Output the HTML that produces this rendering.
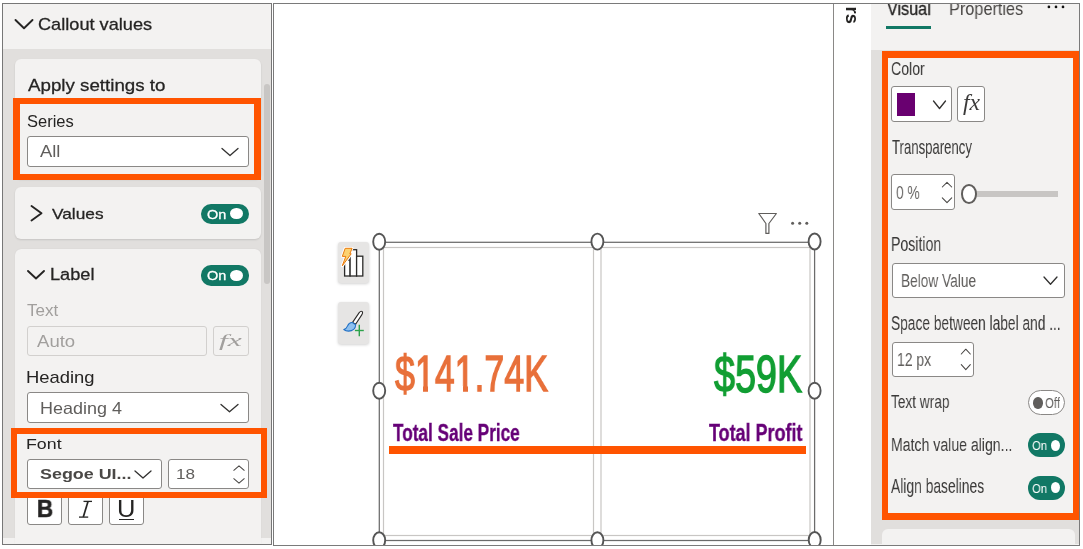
<!DOCTYPE html>
<html><head><meta charset="utf-8"><style>
*{margin:0;padding:0;box-sizing:border-box}
html,body{width:1083px;height:549px;overflow:hidden;background:#fff;font-family:"Liberation Sans", sans-serif}
.a{position:absolute}
.t{position:absolute;white-space:nowrap;line-height:1;transform-origin:0 0;will-change:transform}
</style></head><body>
<!-- LEFT PANEL -->
<div class="a" style="left:2px;top:3px;width:270px;height:542px;border:1px solid #777;background:#f3f2f1"></div>
<div class="a" style="left:3px;top:49px;width:268px;height:489px;background:#e1dfdd"></div>
<div class="a" style="left:15px;top:59px;width:246px;height:120px;border-radius:6px;background:#f3f2f1;box-shadow:0 1px 2px rgba(0,0,0,.12)"></div>
<div class="a" style="left:15px;top:187px;width:246px;height:52px;border-radius:6px;background:#f3f2f1;box-shadow:0 1px 2px rgba(0,0,0,.12)"></div>
<div class="a" style="left:15px;top:249px;width:246px;height:295px;border-radius:6px 6px 0 0;background:#f3f2f1;box-shadow:0 0 1px rgba(0,0,0,.12)"></div>
<div class="a" style="left:264px;top:84px;width:6px;height:200px;border-radius:3px;background:#c8c6c4"></div>
<!-- series dropdown -->
<div class="a" style="left:27px;top:136px;width:222px;height:31px;border:1px solid #8a8886;border-radius:3px;background:#fff"></div>
<!-- toggles left -->
<div class="a" style="left:201px;top:204px;width:48px;height:20px;border-radius:10px;background:#117865"></div>
<div class="a" style="left:230px;top:208px;width:12.5px;height:11px;border-radius:50%;background:#fff"></div>
<div class="a" style="left:201px;top:265px;width:48px;height:20.5px;border-radius:10px;background:#117865"></div>
<div class="a" style="left:230px;top:270px;width:12.5px;height:11px;border-radius:50%;background:#fff"></div>
<!-- auto / fx disabled -->
<div class="a" style="left:27px;top:326px;width:180px;height:30px;border:1px solid #d2d0ce;border-radius:3px"></div>
<div class="a" style="left:213px;top:326px;width:36px;height:30px;border:1px solid #d2d0ce;border-radius:3px"></div>
<!-- heading dropdown -->
<div class="a" style="left:27px;top:392px;width:222px;height:31px;border:1px solid #8a8886;border-radius:3px;background:#fff"></div>
<!-- font dropdowns -->
<div class="a" style="left:27px;top:459px;width:135px;height:30px;border:1px solid #8a8886;border-radius:3px;background:#fff"></div>
<div class="a" style="left:168px;top:459px;width:81px;height:30px;border:1px solid #8a8886;border-radius:3px;background:#fff"></div>
<!-- BIU -->
<div class="a" style="left:27px;top:494px;width:35px;height:31px;border:1px solid #8a8886;border-radius:3px;background:#fff"></div>
<div class="a" style="left:68px;top:494px;width:35px;height:31px;border:1px solid #8a8886;border-radius:3px;background:#fff"></div>
<div class="a" style="left:109px;top:494px;width:35px;height:31px;border:1px solid #8a8886;border-radius:3px;background:#fff"></div>
<!-- orange boxes left -->
<div class="a" style="left:13px;top:98px;width:248px;height:82px;border:solid #ff5400;border-width:6px 7px"></div>
<div class="a" style="left:11px;top:428px;width:256px;height:70px;border:solid #ff5400;border-width:6.5px 6.5px"></div>

<!-- CANVAS -->
<div class="a" style="left:273px;top:3px;width:807px;height:543px;border:1px solid #7a7a7a;background:#fff"></div>
<div class="a" style="left:833px;top:4px;width:1px;height:541px;background:#8a8886"></div>
<!-- insight buttons -->
<div class="a" style="left:338px;top:242px;width:31px;height:41px;border-radius:3px;background:#e6e5e4;box-shadow:0 1px 3px rgba(0,0,0,.18)"></div>
<div class="a" style="left:338px;top:302px;width:31px;height:42px;border-radius:3px;background:#e6e5e4;box-shadow:0 1px 3px rgba(0,0,0,.18)"></div>
<!-- orange underline -->

<!-- RIGHT PANEL -->
<div class="a" style="left:871px;top:4px;width:208px;height:541px;background:#f3f2f1"></div>
<div class="a" style="left:871px;top:50px;width:208px;height:494px;background:#e1dfdd"></div>
<div class="a" style="left:882px;top:529px;width:193px;height:15px;border-radius:6px 6px 0 0;background:#f3f2f1"></div>
<div class="a" style="left:882px;top:51px;width:196.5px;height:469px;background:#f3f2f1;border:solid #ff5400;border-width:7px 6.5px 7px 6px"></div>
<div class="a" style="left:886px;top:26px;width:45px;height:3px;background:#117865"></div>
<!-- color dropdown -->
<div class="a" style="left:891px;top:86px;width:61px;height:35.7px;border:1px solid #8a8886;border-radius:3px;background:#fff"></div>
<div class="a" style="left:897px;top:92.5px;width:18px;height:23px;background:#690070"></div>
<div class="a" style="left:957px;top:86px;width:28px;height:35.7px;border:1px solid #8a8886;border-radius:3px;background:#fff"></div>
<!-- 0% box -->
<div class="a" style="left:891px;top:174px;width:64px;height:36px;border:1px solid #8a8886;border-radius:3px;background:#fff"></div>
<div class="a" style="left:976px;top:191px;width:82px;height:5.5px;background:#c8c6c4"></div>
<div class="a" style="left:960.5px;top:184px;width:16.5px;height:20px;border-radius:50%;border:2.3px solid #605e5c;background:#fff"></div>
<!-- position dropdown -->
<div class="a" style="left:891.5px;top:262.5px;width:173.5px;height:35px;border:1px solid #8a8886;border-radius:3px;background:#fff"></div>
<!-- 12px -->
<div class="a" style="left:891.5px;top:341.5px;width:82px;height:35.5px;border:1px solid #8a8886;border-radius:3px;background:#fff"></div>
<!-- toggles right -->
<div class="a" style="left:1027.5px;top:390px;width:37.5px;height:25px;border:1px solid #8a8886;border-radius:12.5px;background:#fff"></div>
<div class="a" style="left:1033px;top:397px;width:9.5px;height:11.5px;border-radius:50%;background:#605e5c"></div>
<div class="a" style="left:1027.5px;top:433px;width:37.5px;height:24px;border-radius:12px;background:#117865"></div>
<div class="a" style="left:1050.5px;top:439.5px;width:9.5px;height:11.5px;border-radius:50%;background:#fff"></div>
<div class="a" style="left:1027.5px;top:475.5px;width:37.5px;height:24px;border-radius:12px;background:#117865"></div>
<div class="a" style="left:1050.5px;top:481.5px;width:9.5px;height:11.5px;border-radius:50%;background:#fff"></div>

<svg class="a" style="left:0;top:0" width="1083" height="549" viewBox="0 0 1083 549" fill="none">
 <g stroke="#252423" stroke-width="1.9" stroke-linecap="round" stroke-linejoin="round">
  <polyline points="15.5,20 24,28.3 32.5,20"/>
  <polyline points="31.5,206 41.5,213.3 31.5,220.5"/>
  <polyline points="28,271 36,278.5 44,271"/>
 </g>
 <g stroke="#323130" stroke-width="1.3" stroke-linecap="round" stroke-linejoin="round">
  <polyline points="222,148.5 230,155.5 238,148.5"/>
  <polyline points="221,404.5 229.5,411.8 238,404.5"/>
  <polyline points="135,471 143,478 151,471"/>

  <polyline points="933.5,101 939.5,108.5 945.5,101"/>
  <polyline points="1044,277 1050.5,284.3 1057,277"/>

 </g>
 <g stroke="#484644" stroke-width="1.05" stroke-linecap="round" stroke-linejoin="round">
  <polyline points="233.8,470.3 239,465.8 244.2,470.3"/>
  <polyline points="233.8,478.7 239,483.2 244.2,478.7"/>
  <polyline points="942.3,187 947,182.3 951.7,187"/>
  <polyline points="942.3,197.8 947,202.6 951.7,197.8"/>
  <polyline points="961.3,354 965.8,349.2 970.3,354"/>
  <polyline points="961.3,364.6 965.8,369.6 970.3,364.6"/>
 </g>
 <!-- visual frame -->
 <g stroke="#c8c6c4" stroke-width="1.2">
  <rect x="383.5" y="247.5" width="210" height="288"/>
  <rect x="601" y="247.5" width="209" height="288"/>
 </g>
 <rect x="379.3" y="242.3" width="435.3" height="298.2" stroke="#6b6b6b" stroke-width="1.25"/>
 <g stroke="#555" stroke-width="1.9" fill="#fff">
  <ellipse cx="379.2" cy="241.7" rx="6" ry="8"/>
  <ellipse cx="597.4" cy="241.6" rx="6" ry="8"/>
  <ellipse cx="814.6" cy="241.5" rx="6" ry="8"/>
  <ellipse cx="379.2" cy="390.7" rx="6" ry="8"/>
  <ellipse cx="814.6" cy="390.7" rx="6" ry="8"/>
  <ellipse cx="379.2" cy="540.3" rx="6" ry="8"/>
  <ellipse cx="597.4" cy="540.3" rx="6" ry="8"/>
  <ellipse cx="814.7" cy="540" rx="6" ry="8"/>
 </g>
 <!-- filter icon -->
 <path d="M758.8,213.5 H776.4 L768.9,223.5 V233.4 H765.9 V223.5 Z" stroke="#605e5c" stroke-width="1.2" stroke-linejoin="round"/>
 <g fill="#605e5c"><circle cx="792.6" cy="223.3" r="1.5"/><circle cx="799.7" cy="223.3" r="1.5"/><circle cx="806.8" cy="223.3" r="1.5"/></g>
 <g fill="#111"><circle cx="1048.9" cy="6.9" r="1.35"/><circle cx="1056" cy="6.9" r="1.35"/><circle cx="1063" cy="6.9" r="1.35"/></g>
 <!-- insight icon: bars + bolt -->
 <g stroke="#2b2a29" stroke-width="1.3" fill="#fff">
  <rect x="344.6" y="260" width="5.5" height="16"/>
  <rect x="350.1" y="249.7" width="6.5" height="26.3"/>
  <rect x="356.6" y="256.2" width="6.2" height="19.8"/>
 </g>
 <path d="M345.2,248.3 L352.1,248.3 L349.8,253.8 L351.2,253.8 L342.3,265.8 L345.8,256.4 L342.3,256.4 Z" fill="#fff" stroke="#fff" stroke-width="2.8" stroke-linejoin="round"/>
 <path d="M345.2,248.3 L352.1,248.3 L349.8,253.8 L351.2,253.8 L342.3,265.8 L345.8,256.4 L342.3,256.4 Z" fill="#fcd271" stroke="#ea7a0c" stroke-width="1" stroke-linejoin="round"/>
 <!-- brush icon -->
 <path d="M362.3,311.6 C362.9,312.6 362.6,313.6 361.9,314.6 L355.6,324.3 L352.6,322.4 L359.2,312.6 C360,311.6 361.4,310.9 362.3,311.6 Z" stroke="#2b2a29" stroke-width="1.1" fill="#fff" stroke-linejoin="round"/>
 <path d="M352.4,322.6 L355.7,324.8 C355.6,328.6 352.6,331 348.6,331.1 C346.6,331.1 345,330.6 343.8,329.6 C346.2,329 346.9,327.6 347.6,325.9 C348.5,323.8 350.4,322.4 352.4,322.6 Z" fill="#8fc0ee" stroke="#1f6fc5" stroke-width="1.1" stroke-linejoin="round"/>
 <g stroke="#2ca24a" stroke-width="1.4"><line x1="359.3" y1="324.8" x2="359.3" y2="336.2"/><line x1="354.9" y1="330.5" x2="363.8" y2="330.5"/></g>
 <g stroke="#252423" stroke-width="1.3" stroke-linecap="butt">
  <line x1="83.5" y1="501.4" x2="92" y2="501.4"/>
  <line x1="79" y1="517.1" x2="88.2" y2="517.1"/>
  <line x1="88" y1="501.4" x2="83.3" y2="517.1" stroke-width="1.7"/>
 </g>
</svg>
<div class="a" style="left:835px;top:7px;width:35px;height:37px;overflow:hidden"><div class="t" style="left:26px;top:-37.7px;font-size:18.3px;font-weight:700;color:#252423;transform:rotate(90deg)">Filters</div></div>
<div class="a" style="left:119px;top:519px;width:15px;height:1.2px;background:#252423"></div>

<div class="t" style="left:38.49px;top:17.00px;font-size:15.75px;color:#252423;-webkit-text-stroke:0.26px #252423;transform:scaleX(1.1529);">Callout values</div>
<div class="t" style="left:27.80px;top:78.00px;font-size:16.00px;color:#252423;-webkit-text-stroke:0.26px #252423;transform:scaleX(1.1710);">Apply settings to</div>
<div class="t" style="left:26.84px;top:113.00px;font-size:16.50px;color:#252423;">Series</div>
<div class="t" style="left:40.40px;top:143.00px;font-size:16.50px;color:#605e5c;transform:scaleX(1.1149);">All</div>
<div class="t" style="left:51.90px;top:206.00px;font-size:15.00px;color:#252423;-webkit-text-stroke:0.26px #252423;transform:scaleX(1.1512);">Values</div>
<div class="t" style="left:50.45px;top:267.00px;font-size:16.00px;color:#252423;-webkit-text-stroke:0.26px #252423;transform:scaleX(1.1363);">Label</div>
<div class="t" style="left:26.97px;top:302.00px;font-size:17.00px;color:#a19f9d;transform:scaleX(0.9846);">Text</div>
<div class="t" style="left:37.30px;top:333.00px;font-size:16.25px;color:#a19f9d;transform:scaleX(1.1419);">Auto</div>
<div class="t" style="left:26.23px;top:370.00px;font-size:15.75px;color:#252423;transform:scaleX(1.1694);">Heading</div>
<div class="t" style="left:39.56px;top:400.00px;font-size:16.50px;color:#605e5c;transform:scaleX(1.0888);">Heading 4</div>
<div class="t" style="left:26.28px;top:436.00px;font-size:15.50px;color:#252423;transform:scaleX(1.1473);">Font</div>
<div class="t" style="left:40.34px;top:467.00px;font-size:14.75px;color:#4a4846;font-weight:700;transform:scaleX(1.2130);">Segoe UI...</div>
<div class="t" style="left:175.50px;top:467.00px;font-size:14.75px;color:#605e5c;transform:scaleX(1.1590);">18</div>
<div class="t" style="left:395.03px;top:349.00px;font-size:50.25px;color:#e8703a;-webkit-text-stroke:1.4px #e8703a;transform:scaleX(0.7108);">$141.74K</div>
<div class="t" style="left:713.71px;top:349.00px;font-size:51.50px;color:#119e33;-webkit-text-stroke:1.4px #119e33;transform:scaleX(0.7322);">$59K</div>
<div class="t" style="left:393.35px;top:422.00px;font-size:23.00px;color:#660077;font-weight:700;-webkit-text-stroke:0.35px #660077;transform:scaleX(0.7475);">Total Sale Price</div>
<div class="t" style="left:708.54px;top:422.00px;font-size:23.00px;color:#660077;font-weight:700;-webkit-text-stroke:0.35px #660077;transform:scaleX(0.7804);">Total Profit</div>
<div class="t" style="left:887.40px;top:-1.00px;font-size:19.00px;color:#252423;-webkit-text-stroke:0.3px #252423;transform:scaleX(0.8522);">Visual</div>
<div class="t" style="left:949.30px;top:-1.00px;font-size:19.00px;color:#484644;transform:scaleX(0.8568);">Properties</div>
<div class="t" style="left:890.60px;top:59.00px;font-size:19.25px;color:#3b3a39;transform:scaleX(0.7323);">Color</div>
<div class="t" style="left:891.94px;top:138.00px;font-size:19.75px;color:#3b3a39;transform:scaleX(0.6654);">Transparency</div>
<div class="t" style="left:896.49px;top:184.00px;font-size:18.75px;color:#605e5c;transform:scaleX(0.7276);">0 %</div>
<div class="t" style="left:890.77px;top:235.00px;font-size:19.50px;color:#3b3a39;transform:scaleX(0.7239);">Position</div>
<div class="t" style="left:901.41px;top:271.00px;font-size:19.25px;color:#605e5c;transform:scaleX(0.7102);">Below Value</div>
<div class="t" style="left:891.35px;top:314.00px;font-size:19.50px;color:#3b3a39;transform:scaleX(0.7049);">Space between label and ...</div>
<div class="t" style="left:896.92px;top:351.00px;font-size:18.75px;color:#605e5c;transform:scaleX(0.7438);">12 px</div>
<div class="t" style="left:891.33px;top:392.00px;font-size:19.00px;color:#3b3a39;transform:scaleX(0.7191);">Text wrap</div>
<div class="t" style="left:890.87px;top:435.00px;font-size:19.25px;color:#3b3a39;transform:scaleX(0.7318);">Match value align...</div>
<div class="t" style="left:891.30px;top:477.00px;font-size:19.75px;color:#3b3a39;transform:scaleX(0.7009);">Align baselines</div>
<div class="t" style="left:207.42px;top:209.00px;font-size:12.00px;color:#fff;-webkit-text-stroke:0.26px #fff;transform:scaleX(1.2051);">On</div>
<div class="t" style="left:207.42px;top:270.00px;font-size:12.00px;color:#fff;-webkit-text-stroke:0.26px #fff;transform:scaleX(1.2051);">On</div>
<div class="t" style="left:1032.35px;top:439.00px;font-size:13.50px;color:#fff;transform:scaleX(0.8378);">On</div>
<div class="t" style="left:1032.35px;top:482.00px;font-size:13.50px;color:#fff;transform:scaleX(0.8378);">On</div>
<div class="t" style="left:1044.54px;top:396.00px;font-size:14.25px;color:#605e5c;transform:scaleX(0.8019);">Off</div>
<div class="t" style="left:36.97px;top:498.00px;font-size:23.50px;color:#252423;font-weight:700;-webkit-text-stroke:0.6px #252423;transform:scaleX(0.9526);">B</div>
<div class="t" style="left:117.11px;top:498.00px;font-size:23.50px;color:#252423;transform:scaleX(1.0858);">U</div>
<div class="t" style="left:219.38px;top:332.00px;font-size:17.75px;color:#a19f9d;font-family:'Liberation Serif',serif;font-style:italic;transform:scaleX(1.7749);">fx</div>
<div class="t" style="left:962.56px;top:91.00px;font-size:23.25px;color:#3b3a39;font-family:'Liberation Serif',serif;font-style:italic;transform:scaleX(1.0148);">fx</div>
<div class="a" style="left:0;top:0;width:1083px;height:3px;background:#fff"></div>
<div class="a" style="left:273px;top:3px;width:807px;height:1px;background:#7a7a7a"></div>
<div class="a" style="left:389px;top:446px;width:417px;height:7.6px;background:#ff5400"></div>
<div class="a" style="left:273px;top:546px;width:810px;height:3px;background:#fff"></div>
<div class="a" style="left:273px;top:545px;width:807px;height:1px;background:#7a7a7a"></div>
<div class="a" style="left:415.5px;top:385.5px;width:7.5px;height:6.5px;background:#fff"></div>
<div class="a" style="left:427.5px;top:385.5px;width:6.7px;height:6.5px;background:#fff"></div>
<div class="a" style="left:455px;top:385.5px;width:8px;height:6.5px;background:#fff"></div>
<div class="a" style="left:467.5px;top:385.5px;width:7.5px;height:6.5px;background:#fff"></div>

</body></html>
